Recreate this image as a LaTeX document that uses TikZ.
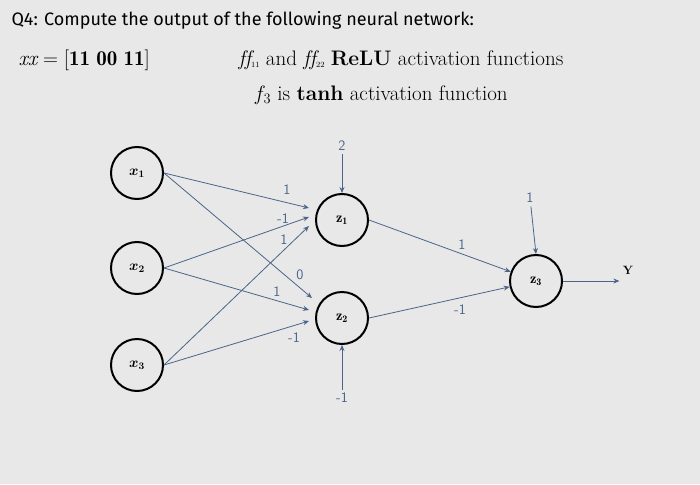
\documentclass[tikz,border=0pt]{standalone}
\usepackage{amsmath,amssymb,bm}
\usepackage{fontspec}
\newfontfamily\sansf{Fira Sans}
\usetikzlibrary{arrows.meta}
\definecolor{bg}{HTML}{E8E8E9}
\definecolor{wc}{HTML}{4A6587}
\begin{document}
\begin{tikzpicture}[x=1pt,y=-1pt,
  neu/.style={circle,draw=black,line width=2pt,minimum size=52pt,inner sep=0pt,font=\Large\bfseries},
  edge/.style={draw=wc,line width=0.8pt,-{Stealth[length=6pt,width=5pt]}},
  wl/.style={text=wc,font=\Large\sffamily}]
\fill[bg] (0,0) rectangle (700,484);
\useasboundingbox (0,0) rectangle (700,484);
\node[anchor=west,font=\sansf\fontsize{18}{22}\selectfont] (t) at (8,20) {Q4: Compute the output of the following neural network:};
\node[anchor=west,font=\fontsize{21}{24}\selectfont] (xx) at (15,60) {$\mathit{xx}=[\mathbf{11\ 00\ 11}]$};
\node[anchor=west,font=\fontsize{21}{24}\selectfont] (ff) at (235,60) {$\mathit{ff}$\raisebox{-2pt}{\footnotesize 11} and $\mathit{ff}$\raisebox{-2pt}{\footnotesize 22} \textbf{ReLU} activation functions};
\node[anchor=west,font=\fontsize{21}{24}\selectfont] (f3) at (250,95) {$f_3$ is \textbf{tanh} activation function};
\node[neu] (x1) at (137,173) {$\bm{x_1}$};
\node[neu] (x2) at (137,268) {$\bm{x_2}$};
\node[neu] (x3) at (137,365) {$\bm{x_3}$};
\node[neu] (z1) at (342,220) {$\mathbf{z_1}$};
\node[neu] (z2) at (342,318) {$\mathbf{z_2}$};
\node[neu] (z3) at (536,281) {$\mathbf{z_3}$};
\coordinate (a1) at (309,208); \coordinate (a2) at (309,217); \coordinate (a3) at (309,226);
\coordinate (b1) at (312,298); \coordinate (b2) at (309,310); \coordinate (b3) at (309,321);
\draw[edge] (x1.east) -- (a1);
\draw[edge] (x2.east) -- (a2);
\draw[edge] (x3.east) -- (a3);
\draw[edge] (x1.east) -- (b1);
\draw[edge] (x2.east) -- (b2);
\draw[edge] (x3.east) -- (b3);
\draw[edge] (z1.east) -- (z3);
\draw[edge] (z2.east) -- (z3);
\node[wl] (b1l) at (342,146) {2};
\draw[edge] (b1l) -- (z1.north);
\node[wl] (b2l) at (342,398) {-1};
\draw[edge] (b2l) -- (z2.south);
\node[wl] (b3l) at (530,198) {1};
\draw[edge] (b3l) -- (z3.north);
\node[font=\large\bfseries] (Y) at (628,270) {Y};
\draw[edge] (z3.east) -- (Y.west |- z3.east);
\node[wl] at (287,190) {1};
\node[wl] at (283,219) {-1};
\node[wl] at (284,240) {1};
\node[wl] at (300,275) {0};
\node[wl] at (277,292) {1};
\node[wl] at (294,338) {-1};
\node[wl] at (462,245) {1};
\node[wl] at (460,310) {-1};
\end{tikzpicture}
\end{document}
